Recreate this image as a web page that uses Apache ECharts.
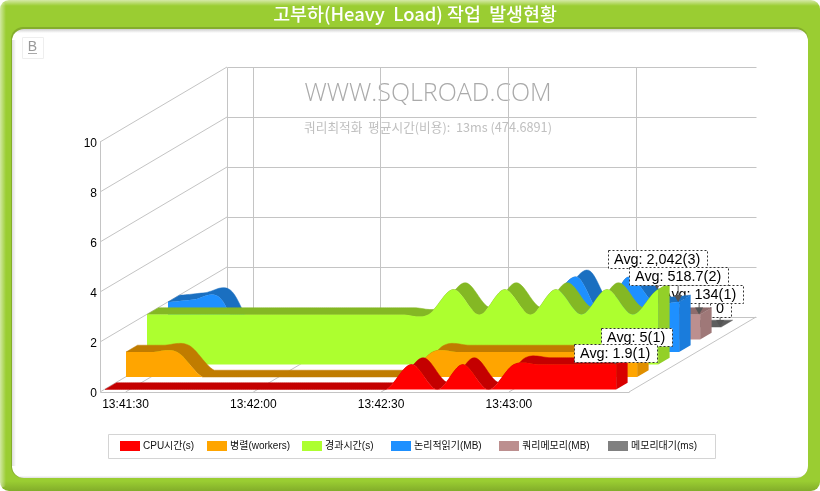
<!DOCTYPE html>
<html><head><meta charset="utf-8">
<style>html,body{margin:0;padding:0;background:#fff}#c{width:820px;height:491px}</style>
<script src="https://cdn.jsdelivr.net/npm/echarts@6/dist/echarts.min.js"></script>
</head><body><div id="c"></div>
<script>
// ---- data ----
const tickLabels = {1:'13:41:30', 6:'13:42:00', 11:'13:42:30', 16:'13:43:00'};
const seriesNames = ['CPU시간(s)','병렬(workers)','경과시간(s)','논리적읽기(MB)','쿼리메모리(MB)','메모리대기(ms)'];
const cpuTime   = [0,0,0,0,0,0,0,0,0,0,0,0,1,0,1,0,1,1,1,1,1];
const parallel  = [1,1,1,0,0,0,0,0,0,0,0,0,1,1,1,1,1,1,1,1,1];
const elapsed   = [2,2,2,2,2,2,2,2,2,2,2,2,3,2,3,2,3,2,3,2,3];
const reads     = [2,2.1,2.2,0.5,0.9,0.9,0.9,0.9,0.9,0.9,0.9,0.9,0.9,0.9,0.9,2,3,1.5,3,2,2];
const queryMem  = [0.9,0.9,0.9,0.9,0.9,0.9,0.9,0.9,0.9,0.9,0.9,0.9,0.9,0.9,0.9,0.9,0.9,0.9,1,1,1];
const memWait   = [0,0,0,0,0,0,0,0,0,0,0,0,0,0,0,0,0,0,0,0,0];
const avgLabels = ['Avg: 1.9(1)','Avg: 5(1)','Avg: 2,042(3)','Avg: 518.7(2)','Avg: 134(1)','0'];
const titleText = '고부하(Heavy  Load) 작업  발생현황';
const markText = 'WWW.SQLROAD.COM';
const subText = '쿼리최적화  평균시간(비용):  13ms (474.6891)';

// ---- style ----
const values = [cpuTime, parallel, elapsed, reads, queryMem, memWait];
const colors = ['#FF0000','#FFA500','#ADFF2F','#1E90FF','#BC8F8F','#808080'];
const topCols = ['#C40000','#C07C00','#84B824','#1A6FC0','#8F6C6C','#5E5E5E'];
const sideCols = ['#D80000','#E08F00','#93D028','#1A7CDC','#9F7878','#6C6C6C'];
const labelGap = [2.5,6,21,17,11,10];
const legendX = [120,207,302,391,499,608];
const DX = 127, DY = 75;              // full depth of the box
const SLOT_X = 21, SLOT_Y = 12.5;     // depth step of one series
const OFF_X = 5, OFF_Y = 2.5;
const THICK_X = 11.5, THICK_Y = 6.8;
const LINE = '#c4c4c4';
const LAST = 20, XMAX = 20.7;
const LATIN = '"Liberation Sans",Arial,sans-serif';
const CJK = '"Noto Sans CJK KR","Noto Sans",sans-serif';

function spline(vals){
  const out=[];
  for(let i=0;i<vals.length-1;i++){
    const p0=vals[Math.max(i-1,0)],p1=vals[i],p2=vals[i+1],p3=vals[Math.min(i+2,vals.length-1)];
    const n=(i===vals.length-2)?14:13;
    for(let s=0;s<n;s++){
      const t=s/13,t2=t*t,t3=t2*t;
      let v=0.5*(2*p1+(p2-p0)*t+(2*p0-5*p1+4*p2-p3)*t2+(3*p1-p0-3*p2+p3)*t3);
      out.push([i+t,Math.max(v,0)]);
    }
  }
  return out;
}
function bodySeries(k){
  return {type:'custom',name:seriesNames[k],itemStyle:{color:colors[k]},xAxisIndex:0,yAxisIndex:0,silent:true,
    data:values[k].map((v,i)=>[i,v]),
    renderItem(params,api){
      if(params.dataIndex!==0) return null;
      const ox=OFF_X+SLOT_X*k, oy=OFF_Y+SLOT_Y*k;
      const curve=spline(values[k]).map(p=>{const c=api.coord(p);return [c[0]+ox,c[1]-oy];});
      const b0=api.coord([0,0]),bn=api.coord([LAST,0]);
      const base=[b0[0]+ox,b0[1]-oy],baseEnd=[bn[0]+ox,bn[1]-oy];
      const back=curve.map(p=>[p[0]+THICK_X,p[1]-THICK_Y]).reverse();
      const e=curve[curve.length-1];
      return {type:'group',children:[
        {type:'polygon',shape:{points:curve.concat(back)},style:{fill:topCols[k],stroke:topCols[k],lineWidth:0.5}},
        {type:'polygon',shape:{points:[e,[e[0]+THICK_X,e[1]-THICK_Y],[baseEnd[0]+THICK_X,baseEnd[1]-THICK_Y],baseEnd]},style:{fill:sideCols[k]}},
        {type:'polygon',shape:{points:[base].concat(curve,[baseEnd])},style:{fill:colors[k]}}
      ]};
    }};
}
const mctx=document.createElement('canvas').getContext('2d');
function measure(t){mctx.font='14.4px '+LATIN;return mctx.measureText(t).width;}
function labelSeries(k){
  return {type:'custom',xAxisIndex:0,yAxisIndex:0,silent:true,data:[[LAST,values[k][LAST]]],
    renderItem(params,api){
      const c=api.coord([LAST,values[k][LAST]]);
      const ex=c[0]+OFF_X+SLOT_X*k-1, ey=c[1]-OFF_Y-SLOT_Y*k;
      const txt=avgLabels[k];
      const bw=measure(txt)+13,bh=18.5,bot=ey-labelGap[k],left=ex-bw/2;
      return {type:'group',children:[
        {type:'line',shape:{x1:ex,y1:bot,x2:ex,y2:ey-5},style:{stroke:'#555',lineWidth:1}},
        {type:'polygon',shape:{points:[[ex-4,ey-7],[ex+4,ey-7],[ex,ey]]},style:{fill:'#555'}},
        {type:'rect',shape:{x:Math.round(left)+.5,y:Math.round(bot-bh)+.5,width:Math.round(bw),height:18},style:{fill:'#fff',stroke:'#333',lineWidth:1,lineDash:[2,2]}},
        {type:'text',style:{text:txt,x:ex,y:bot-bh/2+1,font:'14.4px '+LATIN,fill:'#000',align:'center',verticalAlign:'middle'}}
      ]};
    }};
}

const wallSeries={type:'custom',xAxisIndex:0,yAxisIndex:0,silent:true,data:[[0,0]],
  renderItem(params,api){
    const L=[];
    const seg=(a,b)=>L.push({type:'line',shape:{x1:Math.round(a[0])+.5,y1:Math.round(a[1])+.5,x2:Math.round(b[0])+.5,y2:Math.round(b[1])+.5},style:{stroke:LINE,lineWidth:1}});
    const diag=(a,b)=>L.push({type:'line',shape:{x1:a[0],y1:a[1],x2:b[0],y2:b[1]},style:{stroke:LINE,lineWidth:1}});
    for(let y=0;y<=10;y+=2){
      const a=api.coord([0,y]),b=api.coord([XMAX,y]);
      diag(a,[a[0]+DX,a[1]-DY]);
      seg([a[0]+DX,a[1]-DY],[b[0]+DX,b[1]-DY]);
    }
    const l0=api.coord([0,0]),l1=api.coord([0,10]);
    seg([l0[0]+DX,l0[1]-DY],[l1[0]+DX,l1[1]-DY]);
    Object.keys(tickLabels).forEach(i=>{
      const a=api.coord([+i,0]),b=api.coord([+i,10]);
      diag(a,[a[0]+DX,a[1]-DY]);
      seg([a[0]+DX,a[1]-DY],[b[0]+DX,b[1]-DY]);
    });
    const r=api.coord([XMAX,0]);
    seg(l0,r);
    diag(r,[r[0]+DX,r[1]-DY]);
    return {type:'group',children:L};
  }};

const order=[wallSeries,bodySeries(5),labelSeries(5),bodySeries(4),labelSeries(4),bodySeries(3),bodySeries(2),labelSeries(2),labelSeries(3),bodySeries(1),labelSeries(1),bodySeries(0),labelSeries(0)];

const chart=echarts.init(document.getElementById('c'),null,{renderer:'canvas',width:820,height:491});
const vGrad=(stops)=>({type:'linear',x:0,y:0,x2:0,y2:1,colorStops:stops});
const hGrad=(stops)=>({type:'linear',x:0,y:0,x2:1,y2:0,colorStops:stops});
chart.setOption({
  animation:false,
  backgroundColor:'#fff',
  title:{text:titleText,left:410,top:0,textAlign:'center',textStyle:{color:'#fff',fontSize:18.4,fontWeight:500,fontFamily:CJK}},
  grid:{left:100,top:142,width:529,height:250,containLabel:false},
  xAxis:{type:'value',min:0,max:XMAX,splitLine:{show:false},axisLine:{show:false},axisTick:{show:false},
    axisLabel:{customValues:Object.keys(tickLabels).map(Number),formatter:v=>tickLabels[v]||'',color:'#000',fontSize:12,fontFamily:LATIN,margin:7,hideOverlap:false}},
  yAxis:{type:'value',min:0,max:10,interval:2,splitLine:{show:false},axisTick:{show:false},
    axisLine:{show:true,lineStyle:{color:LINE,width:1}},axisLabel:{color:'#000',fontSize:12,fontFamily:LATIN,margin:3,verticalAlign:'top',padding:[-4,0,0,0]}},
  legend:seriesNames.map((n,i)=>({data:[n],left:legendX[i],top:441,itemWidth:20,itemHeight:10,itemGap:0,icon:'rect',padding:0,selectedMode:false,
    textStyle:{fontSize:10,fontFamily:'"Liberation Sans","Noto Sans CJK KR",sans-serif',color:'#111',padding:[0,0,0,-2]}})),
  graphic:{elements:[
    {type:'rect',z:-20,shape:{x:0,y:0,width:820,height:491,r:9},style:{fill:vGrad([{offset:0,color:'#d6e9a8'},{offset:.012,color:'#9ACD32'},{offset:.98,color:'#9ACD32'},{offset:1,color:'#82ad2a'}])}},
    {type:'rect',z:-19,shape:{x:0,y:3,width:6,height:484,r:3},style:{fill:hGrad([{offset:0,color:'rgba(255,255,255,.55)'},{offset:1,color:'rgba(255,255,255,0)'}])}},
    {type:'rect',z:-18,shape:{x:11,y:27,width:797,height:451,r:12},style:{fill:'#84ad2c'}},
    {type:'rect',z:-17,shape:{x:12,y:29,width:796,height:449,r:12},style:{fill:vGrad([{offset:0,color:'#cfcfcf'},{offset:.009,color:'#fff'},{offset:.995,color:'#fff'},{offset:1,color:'#ddd'}])}},
    {type:'rect',z:-16,shape:{x:12,y:40,width:4,height:426},style:{fill:hGrad([{offset:0,color:'#ddd'},{offset:1,color:'#fff'}])}},
    {type:'rect',z:-15,shape:{x:22.5,y:37.5,width:21,height:21},style:{fill:'#fff',stroke:'#eee',lineWidth:1}},
    {type:'text',z:-15,style:{text:'B',x:32.5,y:47,font:'14px '+LATIN,fill:'#999',align:'center',verticalAlign:'middle'}},
    {type:'rect',z:-15,shape:{x:28,y:53,width:9,height:1},style:{fill:'#aaa'}},
    {type:'text',z:-15,style:{text:markText,x:428,y:94,font:'300 25px "Open Sans",sans-serif',fill:'#aaaaaa',align:'center',verticalAlign:'middle'}},
    {type:'text',z:-15,style:{text:subText,x:428,y:127,font:'12.7px '+CJK,fill:'#c0c0c0',align:'center',verticalAlign:'middle'}},
    {type:'rect',z:-15,shape:{x:108.5,y:434.5,width:607,height:24},style:{fill:'#fff',stroke:'#d4d4d4',lineWidth:1}}
  ]},
  series:order
});
</script></body></html>
